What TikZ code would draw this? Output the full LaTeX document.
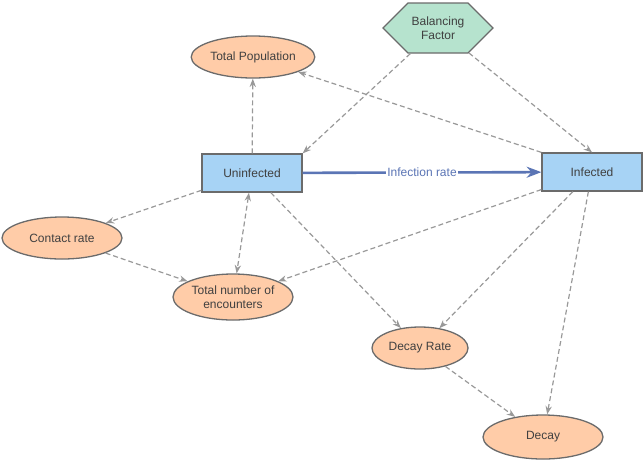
\documentclass[tikz,border=0pt]{standalone}
\usepackage{fontspec}
\setmainfont{Liberation Sans}
\usetikzlibrary{arrows.meta,shapes.geometric,shapes.symbols}
\definecolor{peach}{HTML}{FFCCA8}
\definecolor{skyb}{HTML}{A7D3F5}
\definecolor{mint}{HTML}{B6E3CE}
\definecolor{edge}{HTML}{6B6B6B}
\definecolor{flow}{HTML}{5B75B5}
\begin{document}
\begin{tikzpicture}[x=1pt, y=-1pt, >=Stealth, font=\fontsize{12}{13.5}\selectfont, text=black!75]

\tikzset{
  var/.style={draw=edge, fill=peach, ellipse, line width=1.3pt, minimum width=120pt, minimum height=42pt, align=center, inner sep=1pt},
  stock/.style={draw=edge, fill=skyb, line width=1.3pt, minimum width=100pt, minimum height=38pt},
  arr/.style={->, gray!80, line width=1.2pt, dash pattern=on 5pt off 3pt}
}

\useasboundingbox (0,0) rectangle (644,464);

% --- Nós ---
\node[draw=edge, fill=mint, line width=1.3pt, signal, signal to=west and east, minimum width=110pt, minimum height=50pt, align=center, inner sep=1pt] (bf) at (438,28) {Balancing\\Factor};
\node[var] (pop) at (253,57) {Total Population};
\node[stock] (un) at (252,173) {Uninfected};
\node[stock] (inf) at (592,172) {Infected};
\node[var] (cr) at (62,238) {Contact rate};
\node[var, minimum height=46pt] (enc) at (233,297) {Total number of\\encounters};
\node[var, minimum width=96pt] (dr) at (420,348) {Decay Rate};
\node[var, minimum height=44pt] (dec) at (543,437) {Decay};

% --- Setas ---
\draw[->, flow, line width=2.6pt] (un) -- node[fill=white, inner sep=1pt, text=flow] {Infection rate} (inf);
\draw[arr] (bf) -- (un.north east);
\draw[arr] (bf) -- (inf.north);
\draw[arr] (inf.north west) -- (pop);
\draw[arr] (un) -- (pop);
\draw[arr] (un) -- (cr);
\draw[arr] (cr) -- (enc);
\draw[arr, <->] (un) -- (enc);
\draw[arr] (inf) -- (enc);
\draw[arr] (un) -- (dr);
\draw[arr] (inf) -- (dr);
\draw[arr] (inf) -- (dec);
\draw[arr] (dr) -- (dec);

\end{tikzpicture}
\end{document}
